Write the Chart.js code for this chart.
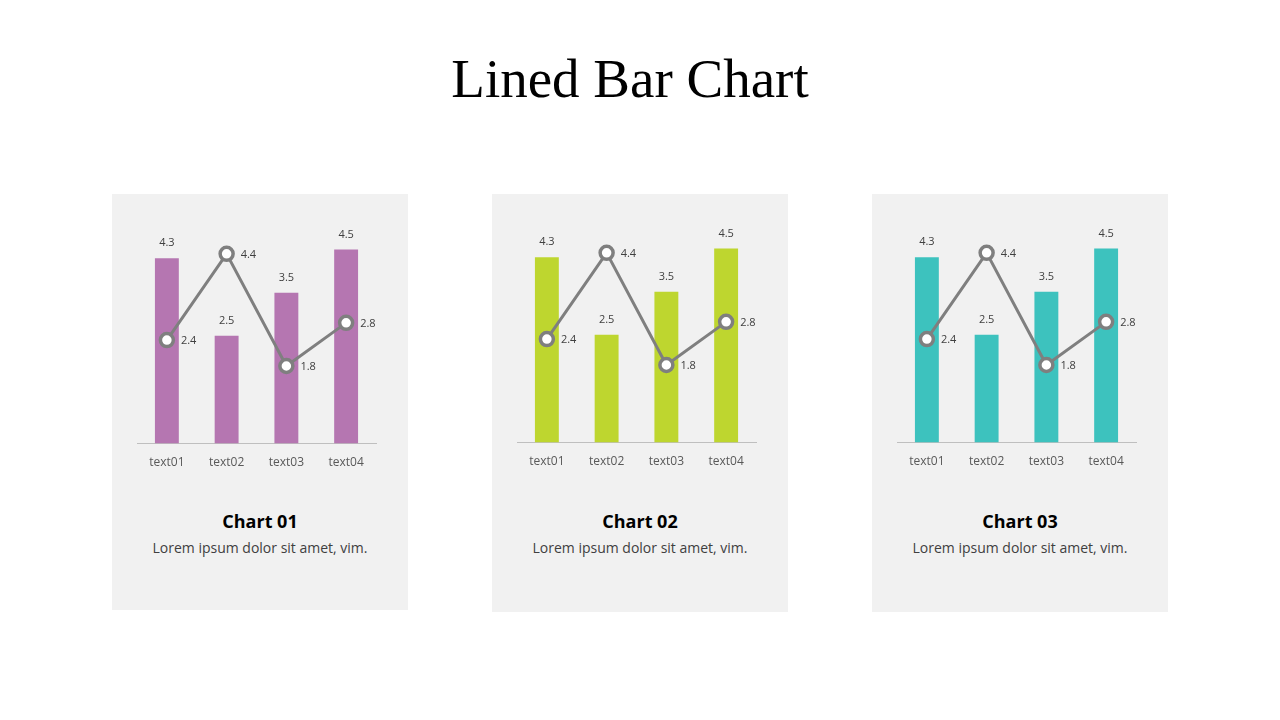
<!DOCTYPE html>
<html>
<head>
<meta charset="utf-8">
<script src="https://cdn.jsdelivr.net/npm/chart.js@4"></script>
<style>
  html, body { margin:0; padding:0; background:#ffffff; width:1280px; height:720px; overflow:hidden; }
  #title { position:absolute; left:330px; width:600px; top:46px; text-align:center;
           font-family:"Liberation Serif","DejaVu Serif",serif; font-size:55px; color:#000; line-height:66px; }
  .panel { position:absolute; top:194px; width:296px; background:#f1f1f1; }
  .panel canvas { position:absolute; left:0; top:0; }
  .ptitle { position:absolute; left:0; width:296px; top:315px; text-align:center;
            font-family:"Open Sans","Noto Sans",sans-serif; font-weight:bold; font-size:18px; color:#000; }
  .psub { position:absolute; left:0; width:296px; top:344px; text-align:center;
          font-family:"Open Sans","Noto Sans",sans-serif; font-size:14px; color:#404040; }
</style>
</head>
<body>
<div id="title">Lined Bar Chart</div>
<div class="panel" id="p0" style="left:112px;height:416px;"><canvas id="c0" width="296" height="290"></canvas><div class="ptitle"></div><div class="psub"></div></div>
<div class="panel" id="p1" style="left:492px;height:418px;"><canvas id="c1" width="296" height="290"></canvas><div class="ptitle"></div><div class="psub"></div></div>
<div class="panel" id="p2" style="left:872px;height:418px;"><canvas id="c2" width="296" height="290"></canvas><div class="ptitle"></div><div class="psub"></div></div>
<script>
const categories = ["text01", "text02", "text03", "text04"];
const barValues = [4.3, 2.5, 3.5, 4.5];
const lineValues = [2.4, 4.4, 1.8, 2.8];
const chartTitles = ["Chart 01", "Chart 02", "Chart 03"];
const chartSubtitle = "Lorem ipsum dolor sit amet, vim.";
const barColors = ["#b576b1", "#bed62f", "#3dc2be"];
const lineColor = "#7f7f7f";

const labelPlugin = {
  id: 'valueLabels',
  afterDatasetsDraw(chart) {
    const ctx = chart.ctx;
    ctx.save();
    ctx.font = '11px "Open Sans", "Noto Sans", sans-serif';
    ctx.fillStyle = '#404040';
    chart.data.datasets.forEach((ds, i) => {
      const meta = chart.getDatasetMeta(i);
      meta.data.forEach((el, j) => {
        const v = ds.data[j].toFixed(1);
        if (ds.type === 'bar') {
          ctx.textAlign = 'center'; ctx.textBaseline = 'middle';
          ctx.fillText(v, el.x, el.y - 15);
        } else {
          ctx.textAlign = 'left'; ctx.textBaseline = 'middle';
          ctx.fillText(v, el.x + 14, el.y + 1);
        }
      });
    });
    ctx.restore();
  }
};

for (let k = 0; k < 3; k++) {
  const panel = document.getElementById('p' + k);
  panel.querySelector('.ptitle').textContent = chartTitles[k];
  panel.querySelector('.psub').textContent = chartSubtitle;
  const base = (k === 0 ? 443 : 442) - 194;
  new Chart(document.getElementById('c' + k), {
    data: {
      labels: categories,
      datasets: [
        { type: 'line', data: lineValues, borderColor: lineColor, borderWidth: 3,
          pointRadius: 6.5, pointHoverRadius: 6.5, pointBorderWidth: 3.5,
          pointBackgroundColor: '#ffffff', pointBorderColor: lineColor, tension: 0, order: 0 },
        { type: 'bar', data: barValues, backgroundColor: barColors[k],
          categoryPercentage: 0.4, barPercentage: 1.0, order: 1 }
      ]
    },
    options: {
      responsive: false, animation: false, devicePixelRatio: 1,
      layout: { padding: { left: 25, right: 32, top: base - 215, bottom: 290 - base - 39 } },
      plugins: { legend: { display: false }, tooltip: { enabled: false } },
      scales: {
        y: { display: false, min: 0, max: 5 },
        x: {
          grid: { display: false, drawTicks: false },
          border: { display: true, color: '#bfbfbf', width: 1 },
          ticks: { padding: 12, color: '#595959', font: { family: '"Open Sans", "Noto Sans", sans-serif', size: 12 } }
        }
      }
    },
    plugins: [labelPlugin]
  });
}
</script>
</body>
</html>
